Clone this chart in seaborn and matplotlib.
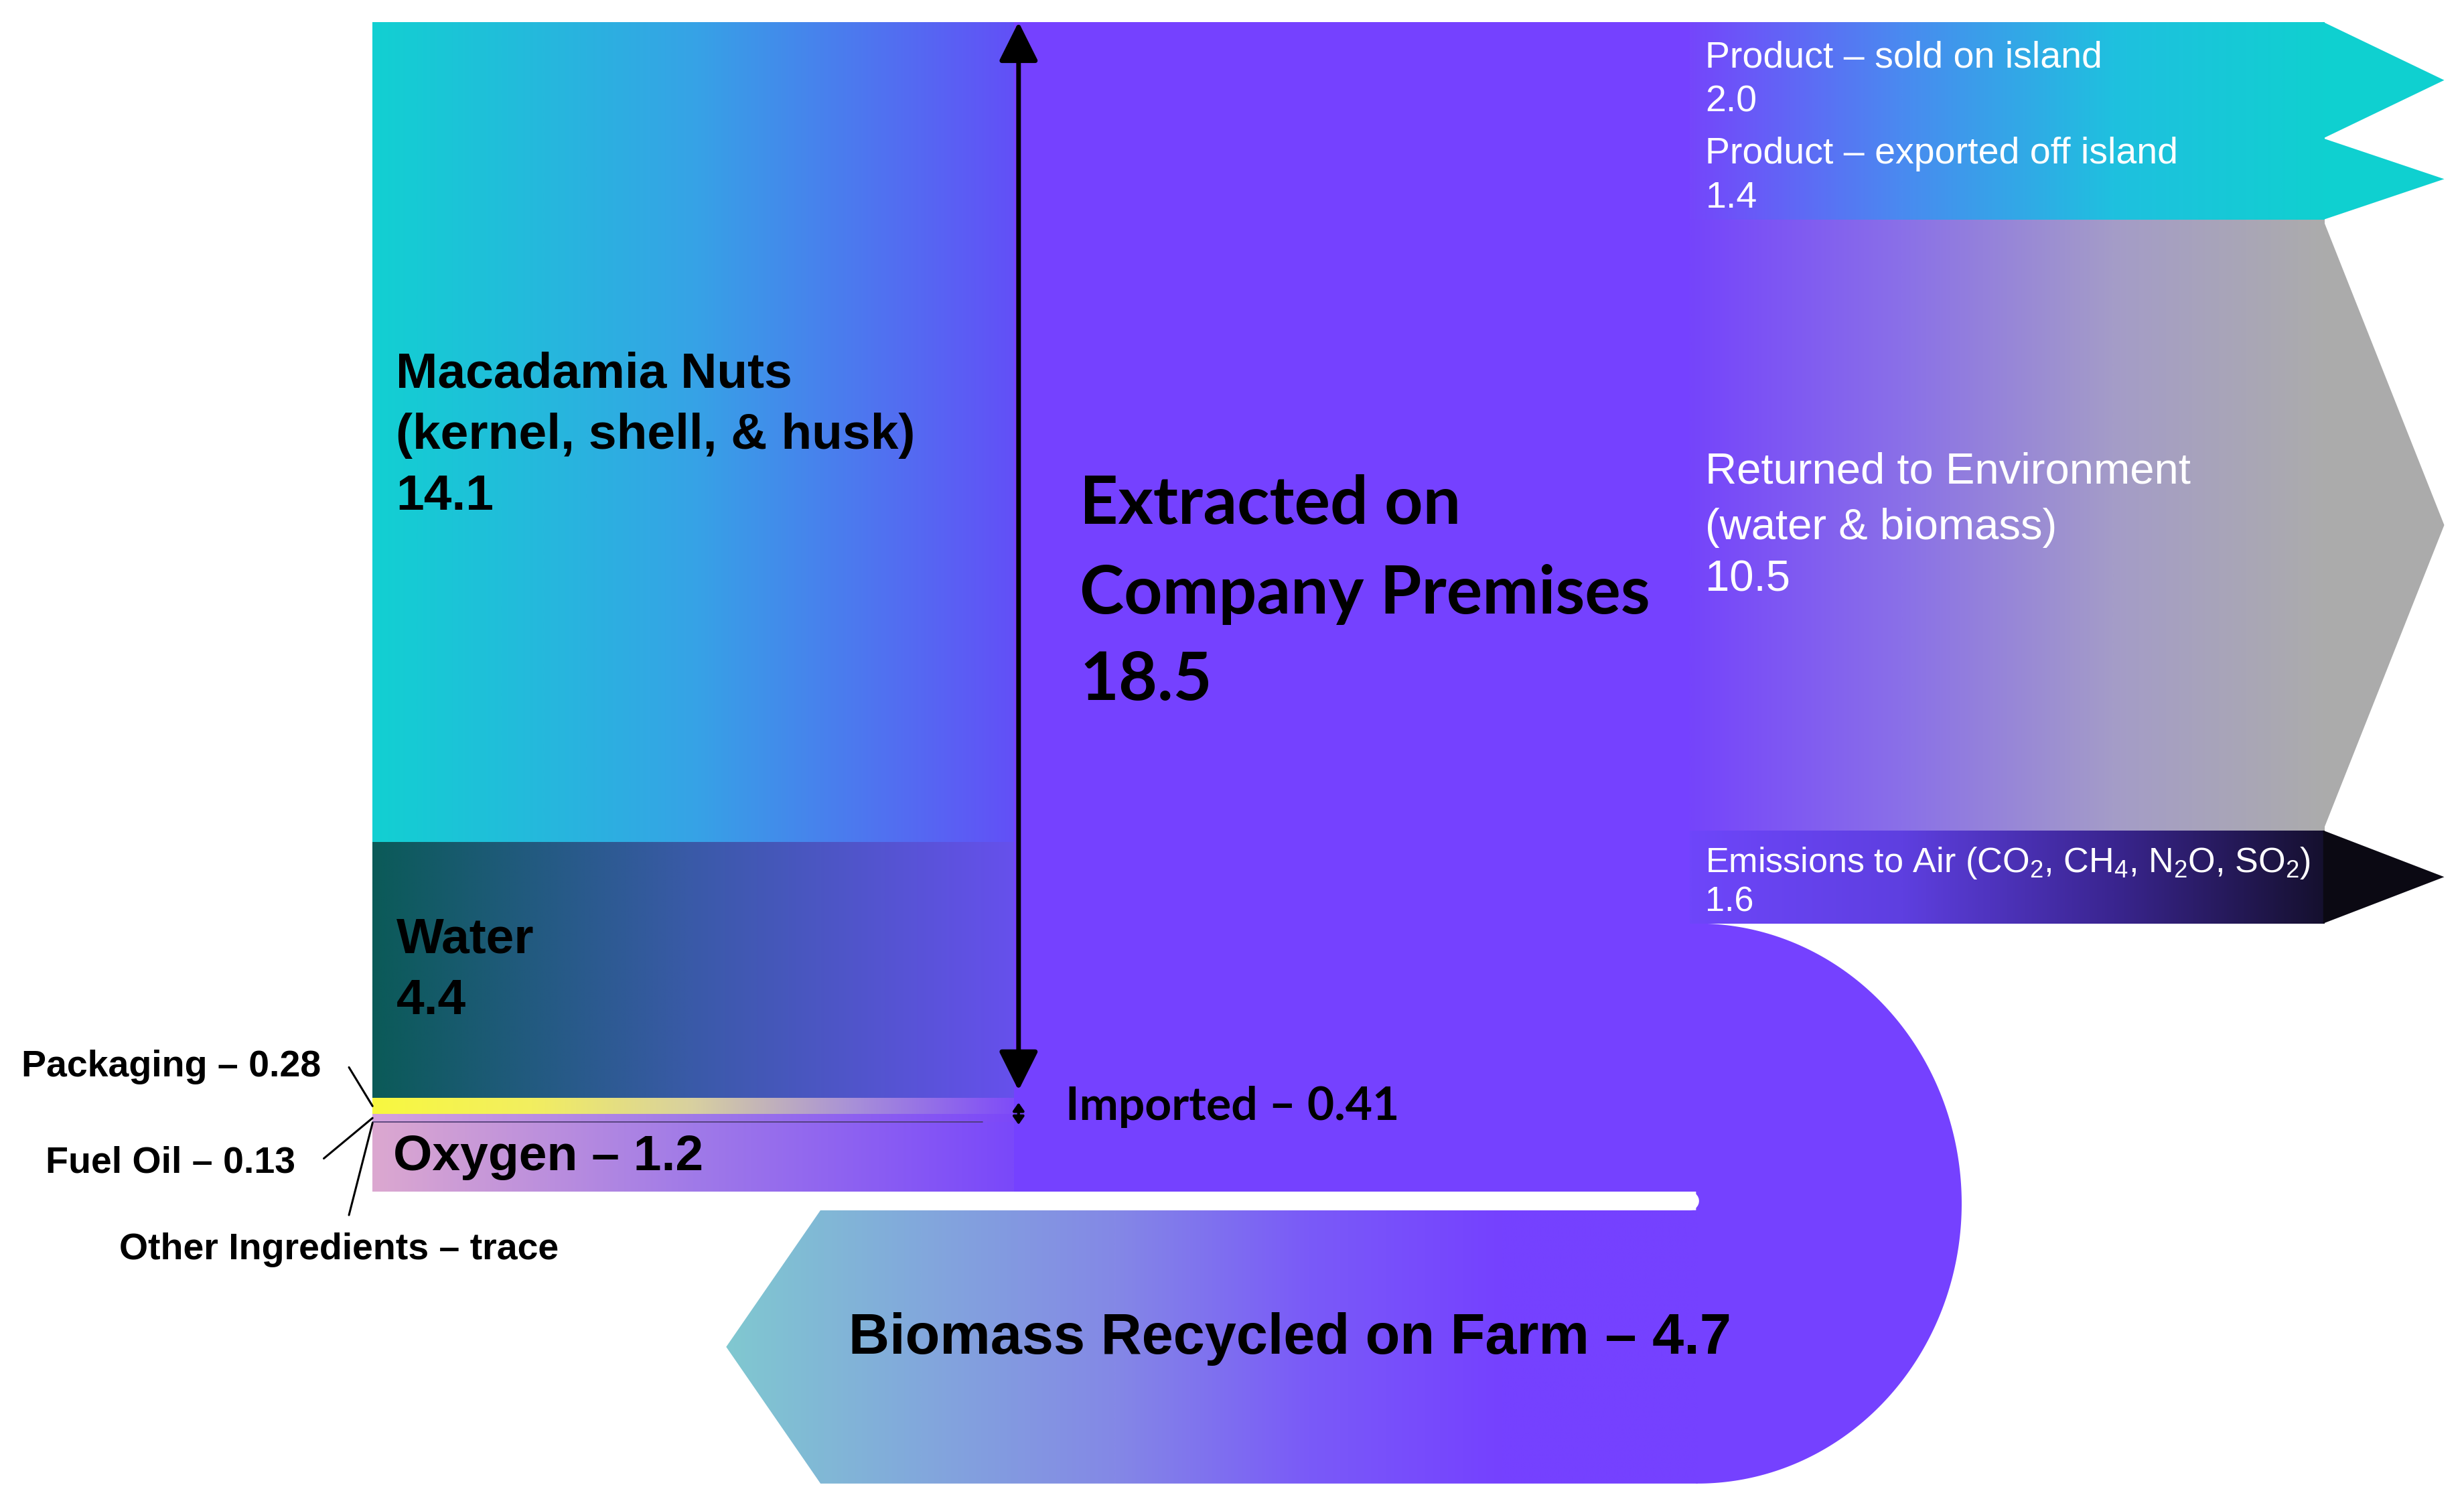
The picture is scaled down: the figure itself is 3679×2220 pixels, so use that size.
import numpy as np
import matplotlib
matplotlib.use('Agg')
import matplotlib.pyplot as plt
from matplotlib.patches import Polygon
import seaborn as sns

# Flow values (thousand tonnes / yr)
input_names = ['Macadamia Nuts', 'Water', 'Packaging', 'Fuel Oil', 'Other Ingredients', 'Oxygen']
input_values = [14.1, 4.4, 0.28, 0.13, 0.0, 1.2]
output_names = ['Product – sold on island', 'Product – exported off island',
                'Returned to Environment', 'Emissions to Air']
output_values = [2.0, 1.4, 10.5, 1.6]
extracted_value = 18.5
imported_value = 0.41
recycled_value = 4.7

# Colours of each band (left -> right gradients)
input_colors = [
    ['#12d0d2', '#36a3e6', '#6250f7'],
    ['#0b5a58', '#3a5aa8', '#6650ec'],
    ['#f8f840', '#f2ee60', '#d8d0a0', '#a890d8', '#7f4cf8'],
    ['#d6a2dc', '#a07ae8', '#7c48f8'],
    ['#d6a2dc', '#7c48f8'],
    ['#dca8d0', '#a07ae8', '#7a48fa'],
]
output_colors = [
    ['#7546fb', '#4a8af0', '#1fc0df', '#10d0d0'],
    ['#7546fb', '#4a8af0', '#1fc0df', '#10d0d0'],
    ['#7544fb', '#8a70e8', '#a49cc8', '#acacac'],
    ['#6e46fa', '#5e3fe0', '#3a2590', '#15102e'],
]
head_colors = ['#0fd0d0', '#0fd0d0', '#ababab', '#0b0913']
body_color = '#7541ff'
biomass_colors = ['#80c8d0', '#82a8dc', '#8488e6', '#7a5af8', body_color, body_color]

sns.set_theme(style='white')
plt.rcParams['font.family'] = ['Liberation Sans', 'DejaVu Sans']
plt.rcParams['mathtext.fontset'] = 'custom'
plt.rcParams['mathtext.rm'] = 'Liberation Sans'

# layout: x in picture columns, y in flow units (top = 0)
S = 37.0


def ty(p):
    return (p - 14) / S


x_in, x_mid, x_out, x_head, x_tip = 237, 645, 1075, 1478, 1555
gap = 0.32

fig = plt.figure(figsize=(36.8, 22.2), dpi=100)
ax = fig.add_axes([0, 0, 1, 1])
ax.axis('off')


def grad_fill(verts, colors, z=2, x0=None, x1=None):
    poly = Polygon(verts, closed=True, facecolor='none', edgecolor='none')
    ax.add_patch(poly)
    xs = [v[0] for v in verts]
    ys = [v[1] for v in verts]
    x0 = min(xs) if x0 is None else x0
    x1 = max(xs) if x1 is None else x1
    cmap = sns.blend_palette(colors, as_cmap=True)
    g = np.linspace(0, 1, 512).reshape(1, -1)
    im = ax.imshow(g, cmap=cmap, extent=(x0, x1, max(ys), min(ys)),
                   aspect='auto', interpolation='bilinear', zorder=z)
    im.set_clip_path(poly)


total_in = sum(input_values)
out_edges = np.concatenate([[0], np.cumsum(output_values)])
loop_top = out_edges[-1]
bio_top = total_in + gap
bio_bot = bio_top + recycled_value
cx = x_out + 5
cy = (loop_top + bio_bot) / 2
ry = (bio_bot - loop_top) / 2
rx = 168

# main body
ax.fill([x_mid - 2, cx, cx, x_mid - 2], [0, 0, total_in, total_in], color=body_color, zorder=1, lw=0)
t = np.linspace(np.pi / 2, -np.pi / 2, 200)
ax.fill(np.r_[cx - 1, cx + rx * np.cos(t), cx - 1], np.r_[loop_top, cy - ry * np.sin(t), bio_bot],
        color=body_color, zorder=1, lw=0)

# inputs on the left
in_edges = np.concatenate([[0], np.cumsum(input_values)])
for i, v in enumerate(input_values):
    if v <= 0:
        continue
    y0, y1 = in_edges[i], in_edges[i + 1]
    grad_fill([(x_in, y0), (x_mid, y0), (x_mid, y1), (x_in, y1)], input_colors[i])
ax.plot([x_in, x_mid - 20], [in_edges[5], in_edges[5]], color='#4a3a70', lw=1.2, zorder=3)

# outputs on the right
for i, v in enumerate(output_values):
    y0, y1 = out_edges[i], out_edges[i + 1]
    grad_fill([(x_out, y0), (x_head + 1, y0), (x_head + 1, y1), (x_out, y1)], output_colors[i])
    ax.fill([x_head, x_tip, x_head], [y0, (y0 + y1) / 2, y1], color=head_colors[i], zorder=2, lw=0)

# recycled biomass arrow back to the farm
bio_mid = (bio_top + bio_bot) / 2
grad_fill([(cx, bio_top), (522, bio_top), (462, bio_mid), (522, bio_bot), (cx, bio_bot)],
          biomass_colors)

# white slot between oxygen and recycled biomass
lw_gap = gap * S * 2.347 * 72 / 100
ax.plot([480, x_out], [total_in + gap / 2] * 2, color='white', lw=lw_gap,
        solid_capstyle='round', zorder=3)

# measurement arrows
ax.annotate('', xy=(648, 0), xytext=(648, extracted_value - 0.13),
            arrowprops=dict(arrowstyle='<|-|>,head_length=0.9,head_width=0.45', lw=5,
                            color='black', mutation_scale=40, shrinkA=0, shrinkB=0), zorder=4)
ax.annotate('', xy=(648, extracted_value + 0.08), xytext=(648, extracted_value + imported_value + 0.05),
            arrowprops=dict(arrowstyle='<|-|>,head_length=0.5,head_width=0.35', lw=3,
                            color='black', mutation_scale=14, shrinkA=0, shrinkB=0), zorder=4)

# leader lines for the thin inputs
pk = (in_edges[2] + in_edges[3]) / 2
fo = (in_edges[3] + in_edges[4]) / 2
ax.plot([222, x_in], [ty(679), pk], color='black', lw=2.2, zorder=4)
ax.plot([206, x_in], [ty(737), fo], color='black', lw=2.2, zorder=4)
ax.plot([222, x_in], [ty(773), in_edges[4] + 0.02], color='black', lw=2.2, zorder=4)

bold = dict(color='black', fontweight='bold', va='center', zorder=5)
white = dict(color='white', va='center', zorder=5)
calib = ['Lato', 'DejaVu Sans']


def lines(x, ys, texts, size, **kw):
    for yy, s in zip(ys, texts):
        ax.text(x, ty(yy), s, fontsize=size, **kw)


lines(252, [238, 277, 316], [input_names[0], '(kernel, shell, & husk)', f'{input_values[0]}'], 54, **bold)
lines(252, [598, 637], [input_names[1], f'{input_values[1]}'], 54, **bold)
ax.text(250, ty(736), f'{input_names[5]} – {input_values[5]}', fontsize=54, **bold)
ax.text(204, ty(679), f'{input_names[2]} – {input_values[2]:.2f}', fontsize=40, ha='right', **bold)
ax.text(188, ty(740), f'{input_names[3]} – {input_values[3]:.2f}', fontsize=40, ha='right', **bold)
ax.text(76, ty(795), f'{input_names[4]} – trace', fontsize=40, **bold)
lines(687, [321, 378, 433], ['Extracted on', 'Company Premises', f'{extracted_value}'], 72,
      family=calib, **bold)
ax.text(678, ty(704), f'Imported – {imported_value}', fontsize=50, family=calib, **bold)
ax.text(540, ty(852), f'Biomass Recycled on Farm – {recycled_value}', fontsize=61, **bold)

lines(1085, [37, 65], [output_names[0], f'{output_values[0]:.1f}'], 40, **white)
lines(1085, [98, 126], [output_names[1], f'{output_values[1]:.1f}'], 40, **white)
lines(1085, [300, 336, 369], [output_names[2], '(water & biomass)', f'{output_values[2]}'], 47, **white)
lines(1085, [549, 574],
      [r'Emissions to Air (CO$\mathregular{_2}$, CH$\mathregular{_4}$, N$\mathregular{_2}$O, SO$\mathregular{_2}$)',
       f'{output_values[3]}'], 37.5, **white)

ax.set_xlim(0, 1568)
ax.set_ylim(ty(946), ty(0))
fig.savefig('out.png', dpi=100, facecolor='white')
